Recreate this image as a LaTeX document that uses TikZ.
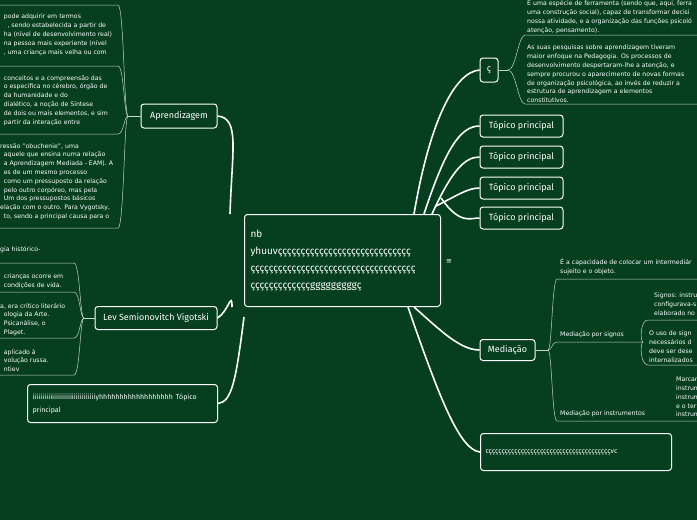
\documentclass[tikz,border=0pt]{standalone}
\usepackage{fontspec}
\setmainfont{DejaVu Sans}
\newfontfamily\hand{Fira Sans}
\definecolor{bg}{HTML}{053F20}
\definecolor{ln}{HTML}{C8D4CC}
\tikzset{
 topic/.style={draw=white,line width=1pt,rounded corners=3pt,text=white,font=\hand\fontsize{9}{13}\selectfont,align=left,inner sep=4pt},
 body/.style={text=white,font=\fontsize{6.2}{8.8}\selectfont,align=left,anchor=north west,inner sep=0pt},
 conn/.style={draw=white,line width=1.6pt},
 thin/.style={draw=ln,line width=0.5pt},
}
\begin{document}
\begin{tikzpicture}[x=1pt,y=-1pt]
\fill[bg] (0,0) rectangle (697,520);
\useasboundingbox (0,0) rectangle (697,520);
\clip (0,0) rectangle (697,520);
% central
\node[topic,minimum width=196pt,minimum height=92pt,anchor=north west,font=\hand\fontsize{10}{17}\selectfont,text width=184pt,inner sep=6pt] (c) at (244,214) {nb\\ yhuuvççççççççççççççççççççççççççççç çççççççççççççççççççççççççççççççççççç çççççççççççççgggggggggç};
\node[text=white,font=\fontsize{7}{8}\selectfont] (eq) at (449,262) {≡};
% left topics
\node[topic,minimum width=76pt,minimum height=24pt] (apr) at (179,116) {Aprendizagem};
\node[topic,minimum width=122pt,minimum height=23pt] (lev) at (156,318) {Lev Semionovitch Vigotski};
\node[topic,minimum width=190pt,minimum height=38pt,anchor=north west,text width=180pt] (tl) at (27,384) {\fontsize{7}{13}\selectfont iiiiiiiiiiiiiiiiiiiiiiiiiiiiiiiiyhhhhhhhhhhhhhhhhhh Tópico principal};
% right topics
\node[topic,minimum width=18pt,minimum height=24pt,inner sep=2pt] (cc) at (489,70) {ç};
\node[topic,minimum width=83pt,minimum height=22pt] (t1) at (521.5,126) {Tópico principal};
\node[topic,minimum width=83pt,minimum height=22pt] (t2) at (521.5,157) {Tópico principal};
\node[topic,minimum width=83pt,minimum height=22pt] (t3) at (521.5,188) {Tópico principal};
\node[topic,minimum width=83pt,minimum height=22pt] (t4) at (521.5,218) {Tópico principal};
\node[topic,minimum width=55pt,minimum height=21pt] (med) at (507.5,350) {Mediação};
\node[topic,minimum width=191pt,minimum height=37pt,anchor=north west,text width=181pt] (br) at (480,433) {\fontsize{7}{9}\selectfont cççççççççççççççççççççççççççççççççççççççvc};
% main connectors
\draw[conn] ([xshift=-14pt]c.north west) .. controls (232,150) and (240,118) .. (apr.east);
\draw[conn] ([xshift=-12pt]c.south west) .. controls (232,290) and (228,312) .. (lev.east);
\draw[conn] ([yshift=-10pt]c.south west) .. controls (236,380) and (232,402) .. (tl.east);
\draw[conn] ([xshift=170pt]c.north west) .. controls (430,120) and (455,72) .. (cc.west);
\draw[conn] ([xshift=180pt]c.north west) .. controls (445,150) and (460,126) .. (t1.west);
\draw[conn] ([xshift=188pt]c.north west) .. controls (452,170) and (465,157) .. (t2.west);
\draw[conn] ([xshift=192pt,yshift=8pt]c.north west) .. controls (458,195) and (468,188) .. (t3.west);
\draw[conn] ([yshift=16pt]c.north east) .. controls (460,225) and (470,218) .. (t4.west);
\draw[conn] ([xshift=170pt]c.south west) .. controls (440,330) and (460,350) .. (med.west);
\draw[conn] ([xshift=164pt]c.south west) .. controls (440,400) and (460,450) .. (br.west);
% Aprendizagem subtopics
\coordinate (aj) at (128,116);
\draw[thin] (apr.west) -- (aj);
\draw[thin] (aj) .. controls (124,116) and (124,6) .. (118,5) -- (0,5);
\draw[thin] (aj) .. controls (124,116) and (124,66) .. (118,66) -- (0,66);
\draw[thin] (aj) .. controls (124,116) and (124,134) .. (118,134) -- (0,134);
\draw[thin] (aj) .. controls (124,116) and (124,228) .. (118,228) -- (0,228);
\node[body] (a1) at (0,14) {\phantom{x}pode adquirir em termos\\ \phantom{xx}, sendo estabelecida a partir de\\ \phantom{x}ha (nível de desenvolvimento real)\\ \phantom{x}na pessoa mais experiente (nível\\ \phantom{x}, uma criança mais velha ou com};
\node[body] (a2) at (0,75) {\phantom{x}conceitos e a compreensão das\\ \phantom{x}o específica no cérebro, órgão de\\ \phantom{x}da humanidade e do\\ \phantom{x}dialético, a noção de Síntese\\ \phantom{x}de dois ou mais elementos, e sim\\ \phantom{x}partir da interação entre};
\node[body] (a3) at (0,143) {ressão "obuchenie", uma\\ \phantom{x}aquele que ensina numa relação\\ \phantom{x}a Aprendizagem Mediada - EAM). A\\ \phantom{x}es de um mesmo processo\\ \phantom{x}como um pressuposto da relação\\ \phantom{x}pelo outro corpóreo, mas pela\\ \phantom{x}Um dos pressupostos básicos\\ elação com o outro. Para Vygotsky,\\ \phantom{x}to, sendo a principal causa para o};
% Lev subtopics
\coordinate (lj) at (84,318);
\draw[thin] (lev.west) -- (lj);
\draw[thin] (lj) .. controls (80,318) and (80,264) .. (74,263) -- (0,263);
\draw[thin] (lj) .. controls (80,318) and (80,292) .. (74,292) -- (0,292);
\draw[thin] (lj) .. controls (80,318) and (80,338) .. (74,338) -- (0,338);
\draw[thin] (lj) .. controls (80,318) and (80,375) .. (74,375) -- (0,375);
\node[body] (l0) at (0,246) {gia histórico-};
\node[body] (l1) at (0,274) {\phantom{x}crianças ocorre em\\ \phantom{x}condições de vida.};
\node[body] (l2) at (0,303) {a, era crítico literário\\ \phantom{x}ologia da Arte.\\ \phantom{x}Psicanálise, o\\ \phantom{x}Plaget.};
\node[body] (l3) at (0,349) {\phantom{x}aplicado à\\ \phantom{x}volução russa.\\ \phantom{x}ntiev};
% ç subtopics
\coordinate (cj) at (508,70);
\draw[thin] (cc.east) -- (cj);
\draw[thin] (cj) .. controls (516,70) and (518,36) .. (525,35) -- (697,35);
\draw[thin] (cj) .. controls (516,70) and (518,104) .. (525,104) -- (697,104);
\node[body] (r0) at (527,0) {É uma espécie de ferramenta (sendo que, aqui, ferra\\ uma construção social), capaz de transformar decisi\\ nossa atividade, e a organização das funções psicoló\\ atenção, pensamento).};
\node[body] (r1) at (527,45) {As suas pesquisas sobre aprendizagem tiveram\\ maior enfoque na Pedagogia. Os processos de\\ desenvolvimento despertaram-lhe a atenção, e\\ sempre procurou o aparecimento de novas formas\\ de organização psicológica, ao invés de reduzir a\\ estrutura de aprendizagem a elementos\\ constitutivos.};
% Mediação subtopics
\coordinate (mj) at (548,350);
\draw[thin] (med.east) -- (mj);
\draw[thin] (mj) .. controls (552,350) and (552,280) .. (557,279) -- (697,279);
\draw[thin] (mj) .. controls (552,350) and (552,342) .. (557,342) -- (643,342);
\draw[thin] (mj) .. controls (552,350) and (552,421) .. (557,421) -- (697,421);
\node[body] (m1) at (560,259) {É a capacidade de colocar um intermediár\\ sujeito e o objeto.};
\node[body] (m2) at (560,331) {Mediação por signos};
\node[body] (m3) at (560,410) {Mediação por instrumentos};
\coordinate (sj) at (643,342);
\draw[thin] (sj) .. controls (640,342) and (640,320) .. (648,320) -- (697,320);
\draw[thin] (sj) .. controls (640,342) and (640,365) .. (648,365) -- (697,365);
\node[body] (s1) at (654,293) {Signos: instru\\ configurava-s\\ elaborado no};
\node[body] (s2) at (649,331) {O uso de sign\\ necessários d\\ deve ser dese\\ internalizados};
\node[body] (s3) at (676,377) {Marcar\\ instrum\\ instrum\\ e o ter\\ instrum};
\end{tikzpicture}
\end{document}
